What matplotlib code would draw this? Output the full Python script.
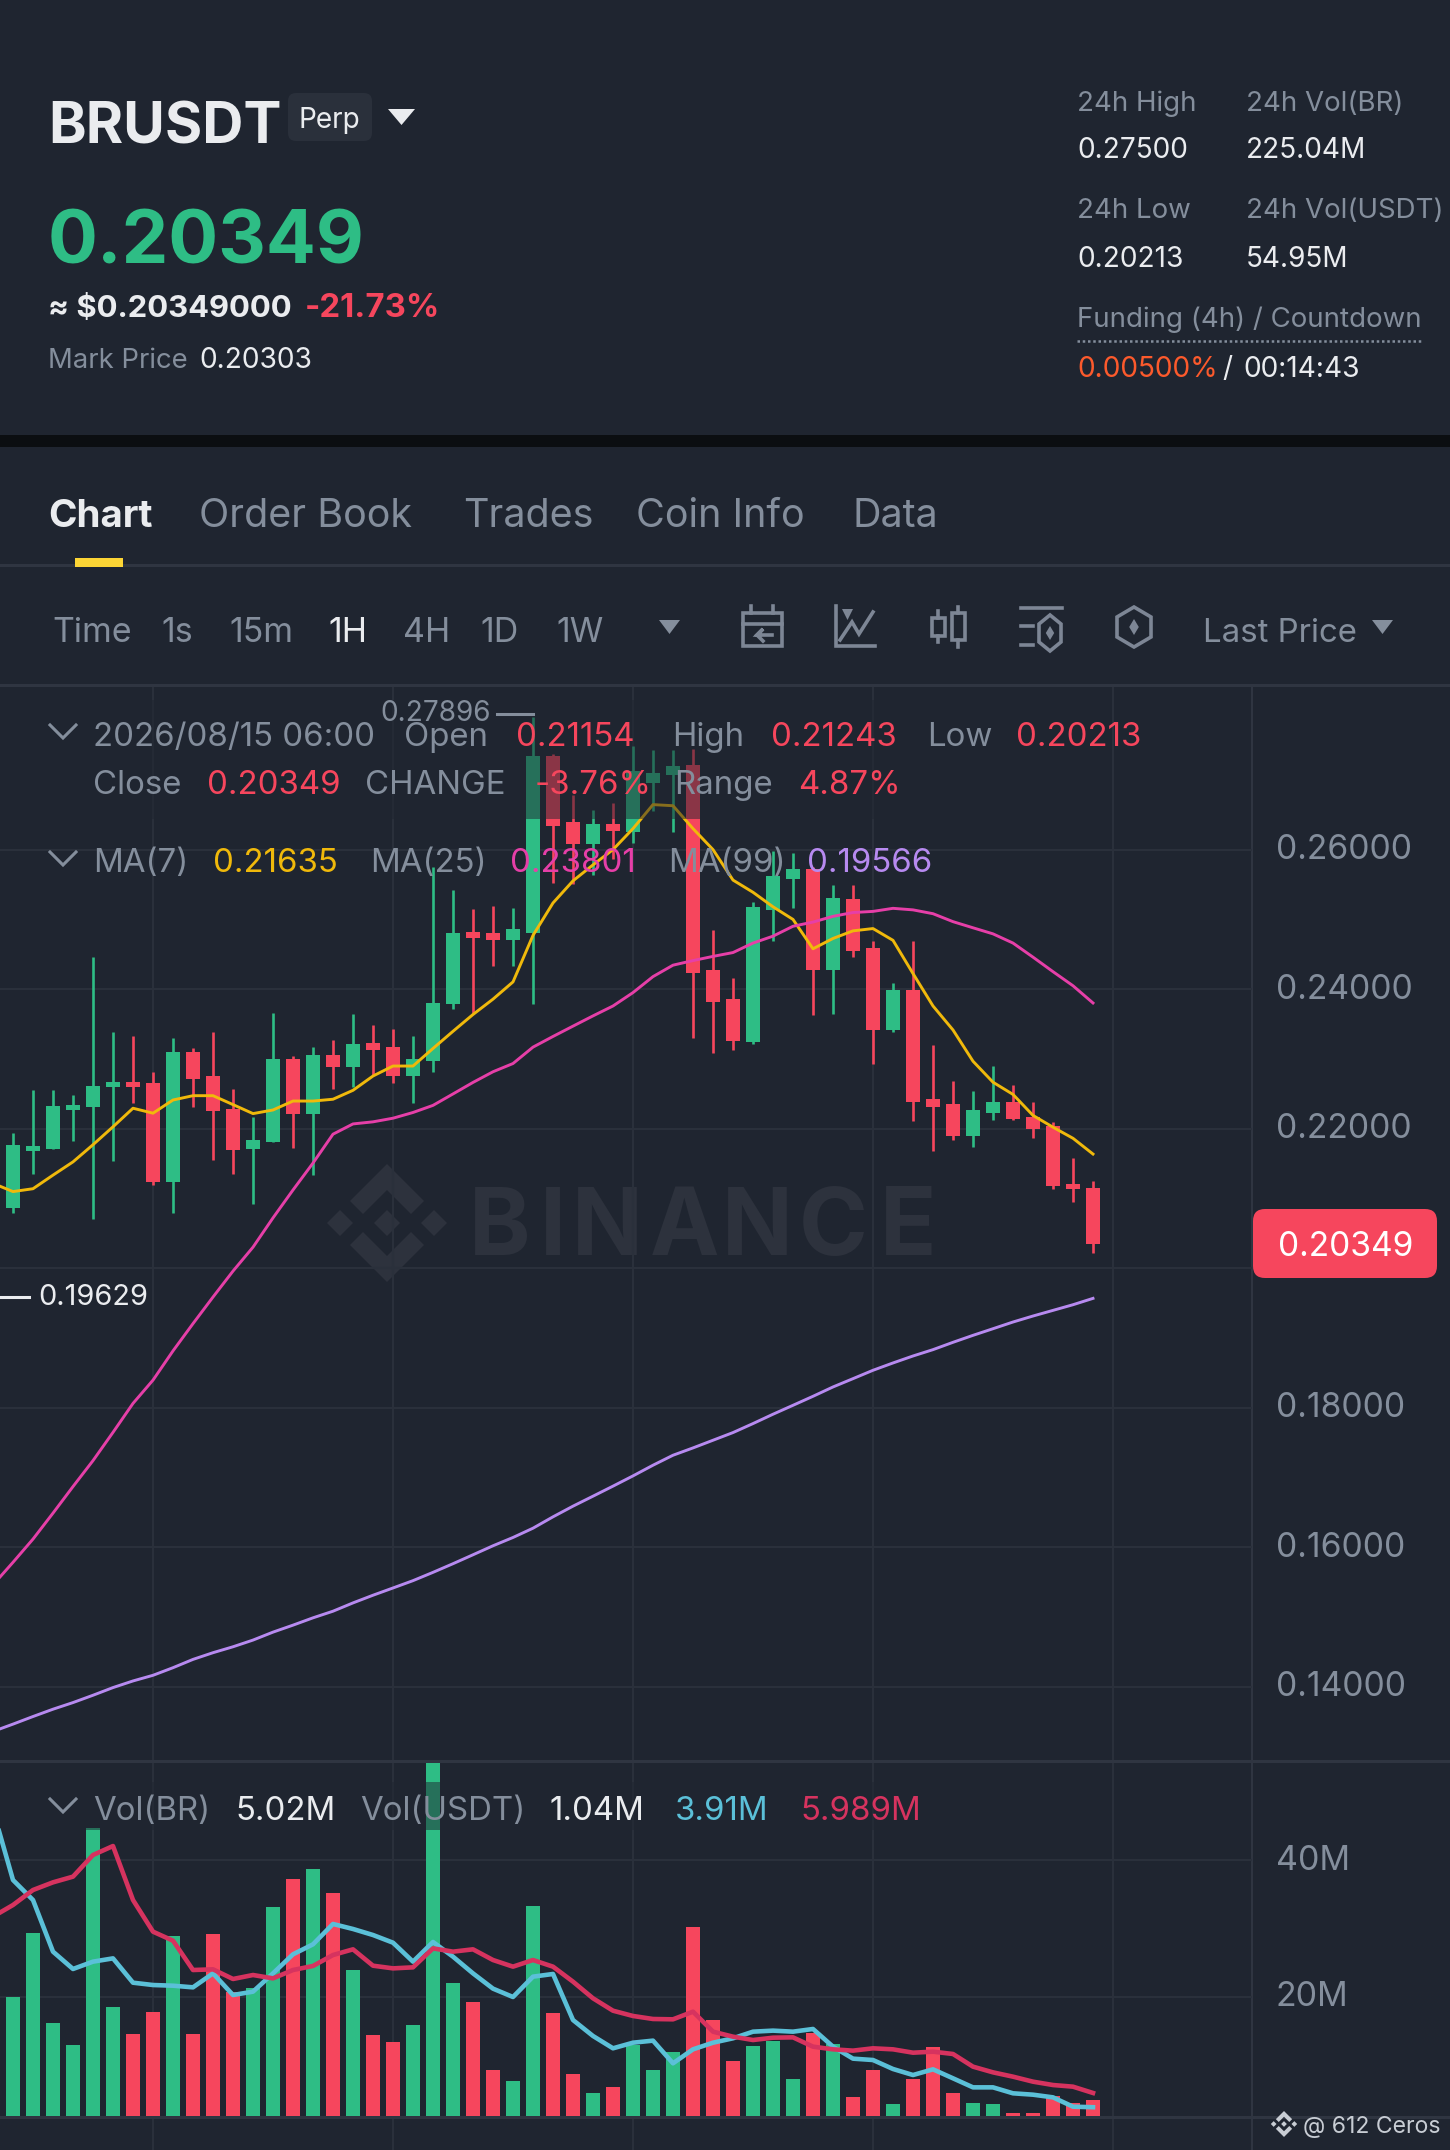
import matplotlib
matplotlib.use('Agg')
import matplotlib.pyplot as plt
from matplotlib.patches import Rectangle, FancyBboxPatch, Polygon
from matplotlib.transforms import ScaledTranslation
import numpy as np

# candles, oldest first
opens = [.20856, .21677, .21713, .22267, .22308, .2259, .22662, .22656, .21236, .23103, .22749,
         .22287, .21703, .21805, .23, .22215, .23051, .22882, .23226, .23169, .22749, .22974,
         .2379, .24815, .248, .24708, .24803, .2734, .26394, .26082, .26372, .26257, .26957,
         .27066, .27219, .24272, .23851, .23239, .25136, .25579, .25716, .24278, .25295, .24584,
         .23408, .23993, .22419, .22348, .21888, .22227, .22375, .22162, .22036, .21211, .21154]
highs = [.21933, .22559, .22549, .22487, .24456, .23385, .23323, .22805, .23292, .23149, .23385,
         .22574, .22164, .23662, .23046, .23164, .23267, .23646, .23482, .23421, .23328, .25744,
         .25421, .25144, .2519, .25159, .27896, .27367, .26782, .26563, .26672, .27487, .27432,
         .27432, .27449, .24846, .24157, .25245, .25984, .25951, .25754, .25492, .25492, .24688,
         .24086, .24693, .23195, .22676, .22534, .22894, .22621, .22375, .22091, .21582, .21243]
lows = [.20795, .21349, .21703, .21821, .20703, .21533, .22364, .2119, .20795, .22303, .21549,
        .21349, .20918, .21805, .21728, .21333, .22564, .2259, .22774, .22651, .22369, .22805,
        .23718, .23651, .24333, .24333, .23786, .25524, .25508, .25634, .25863, .26098, .26547,
        .26246, .23305, .23086, .2313, .23206, .24688, .25158, .23622, .23644, .24458, .22922,
        .23387, .22107, .21686, .21834, .21741, .22118, .22124, .21872, .21129, .20943, .20213]
closes = [.21769, .21754, .22318, .22344, .2261, .22672, .2259, .21236, .23103, .22713, .22251,
          .21687, .21841, .23005, .22205, .23051, .22877, .2321, .23133, .22754, .23005, .238,
          .24805, .24738, .24708, .24856, .2734, .26344, .26082, .26372, .26262, .27121, .27093,
          .27203, .24234, .23813, .2325, .25174, .25617, .25716, .24272, .253, .24551, .23414,
          .23993, .22386, .22309, .21888, .22266, .22375, .22134, .21992, .21172, .21129, .20349]

# moving averages start one candle left of the visible window
ma7 = [.21215, .21097, .21138, .21333, .21523, .21769, .22026, .22292, .22221, .2241, .22472,
       .22472, .22344, .22215, .22267, .22395, .22395, .22421, .22549, .22754, .22897, .22897,
       .23149, .23395, .23636, .23856, .24103, .2477, .25235, .25552, .25781, .26, .26301,
       .26645, .26629, .26301, .26, .25563, .25388, .2518, .24999, .24578, .24726, .24835,
       .24868, .24699, .24223, .23758, .23414, .22966, .22665, .2249, .22189, .2202, .21861, .21635]
ma25 = [.15458, .15782, .16115, .16487, .16868, .1724, .17645, .1806, .18394, .18813, .19204,
        .19585, .19957, .203, .2072, .2112, .21506, .2192, .22067, .22097, .22149, .22231,
        .22333, .22497, .22662, .22815, .22933, .23168, .23321, .23469, .23616, .23758, .2395,
        .24179, .24343, .24409, .24469, .24524, .2466, .24759, .24901, .24961, .25043, .25098,
        .25114, .25158, .25136, .25081, .24967, .24879, .24792, .2466, .24458, .2425, .24048, .23801]
ma99 = [.13357, .13462, .13571, .13676, .13771, .13876, .13986, .14081, .14162, .14271, .1439,
        .14486, .14571, .14667, .14781, .14881, .14986, .15081, .152, .1531, .15414, .15519,
        .15638, .15762, .1589, .16019, .16138, .16271, .16434, .16587, .1673, .16874, .17021,
        .17174, .17317, .17422, .17532, .17642, .17771, .17905, .18033, .18162, .18296, .18415,
        .18535, .1864, .1874, .18831, .18936, .19036, .19131, .19227, .19313, .19394, .19475, .19566]

# volume in millions
volumes = [20.0, 29.29, 16.16, 13.0, 44.72, 18.49, 14.55, 17.76, 28.91, 14.55, 29.15, 20.8, 21.3,
           33.1, 37.18, 38.64, 35.13, 23.94, 14.4, 13.43, 15.86, 54.1, 22.0, 19.22, 9.34, 7.8,
           33.3, 17.7, 8.76, 6.0, 6.81, 13.0, 9.4, 12.02, 30.2, 16.7, 10.66, 12.85, 13.63, 8.03,
           14.7, 13.1, 5.35, 9.3, 4.33, 8.0, 12.65, 5.94, 4.53, 4.4, 3.0, 3.0, 5.6, 4.5, 5.02]
vol_ma5 = [47.3, 37.08, 34.16, 26.62, 24.09, 25.16, 25.64, 22.09, 21.75, 21.65, 21.41, 23.45,
           20.29, 20.78, 23.45, 26.23, 27.69, 30.66, 29.93, 29.05, 27.93, 25.16, 28.03, 25.89,
           23.45, 21.22, 20.0, 22.97, 23.36, 16.64, 14.31, 12.51, 13.33, 13.63, 10.32, 12.36,
           13.33, 13.97, 14.94, 15.09, 14.94, 15.33, 12.75, 11.0, 10.8, 9.49, 8.61, 9.44, 8.13,
           6.81, 6.81, 5.94, 5.74, 5.35, 3.99, 3.91]
vol_ma10 = [31.73, 33.43, 35.62, 36.74, 37.57, 40.73, 42.04, 34.16, 29.54, 28.22, 23.94, 24.04,
            22.63, 23.21, 22.72, 23.94, 24.53, 26.13, 26.96, 24.57, 24.18, 24.33, 27.1, 26.62,
            26.96, 25.4, 24.43, 25.4, 24.43, 22.24, 19.81, 18.0, 17.23, 16.79, 16.74, 17.86,
            14.94, 14.21, 13.72, 14.06, 14.11, 12.75, 12.36, 12.17, 12.51, 12.36, 11.87, 12.02,
            11.68, 9.83, 9.0, 8.37, 7.64, 7.15, 6.91, 5.989]

price_ticks = [.14, .16, .18, .20, .22, .24, .26]
price_labels = ['0.14000', '0.16000', '0.18000', '', '0.22000', '0.24000', '0.26000']
vol_ticks = [20, 40]
vol_labels = ['20M', '40M']
time_ticks = [7, 19, 31, 43, 55]
intervals = ['Time', '1s', '15m', '1H', '4H', '1D', '1W']
tabs = ['Chart', 'Order Book', 'Trades', 'Coin Info', 'Data']

BG = '#1f2530'
GREEN = '#2ebd85'
RED = '#f6465d'
GRAY = '#848e9c'
WHITE = '#eaecef'
GRID = '#2a303b'
LINE = '#2f3541'
W, H = 1450, 2150

plt.rcParams['font.family'] = ['Inter', 'DejaVu Sans']
fig = plt.figure(figsize=(W / 100, H / 100), dpi=100, facecolor=BG)


def px_axes(left, top, right, bottom, z):
    return fig.add_axes([left / W, 1 - bottom / H, (right - left) / W, (bottom - top) / H], zorder=z)


# pixel layers for the page furniture
under = px_axes(0, 0, W, H, 0)
over = px_axes(0, 0, W, H, 5)
for a in (under, over):
    a.set_xlim(0, W)
    a.set_ylim(H, 0)
    a.axis('off')


def label(x, y, s, size, color=GRAY, weight='normal', ax=over, **kw):
    ax.text(x, y, s, fontsize=size * 0.72, color=color, fontweight=weight, va='baseline', ha='left', **kw)


def binance_logo(ax, cx, cy, k, color):
    # k = half height of the mark in pixels / 60
    for dx in (-47, 0, 47):
        ax.add_patch(Polygon([(cx + dx * k, cy - 13 * k), (cx + (dx + 13) * k, cy),
                              (cx + dx * k, cy + 13 * k), (cx + (dx - 13) * k, cy)], color=color, lw=0))
    for s in (-1, 1):
        pts = [(0, 59), (37, 22), (24, 9), (0, 33), (-24, 9), (-37, 22)]
        ax.add_patch(Polygon([(cx + a * k, cy + s * b * k) for a, b in pts], color=color, lw=0))


def tri(x0, x1, y0, y1, color):
    over.add_patch(Polygon([(x0, y0), (x1, y0), ((x0 + x1) / 2, y1)], color=color, lw=0))


def chevron(x0, x1, y0, y1):
    over.plot([x0, (x0 + x1) / 2, x1], [y0, y1, y0], color=GRAY, lw=2.2, solid_joinstyle='miter')


# header
under.add_patch(Rectangle((0, 435), W, 12, color='#0b0e11', lw=0))
label(48, 144, 'BRUSDT', 57, WHITE, 'bold')
under.add_patch(FancyBboxPatch((294, 99), 72, 36, boxstyle='round,pad=6,rounding_size=8', color='#2a303b', lw=0))
label(299, 128, 'Perp', 28, WHITE)
tri(388, 415, 109, 125, WHITE)
label(48, 264, '0.20349', 74, GREEN, 'bold')
label(48, 317, '≈ $0.20349000', 31, WHITE, 'bold')
label(305, 317, '-21.73%', 33, RED, 'bold')
label(48, 368, 'Mark Price', 27.5)
label(199, 368, '0.20303', 28, WHITE)

label(1077, 111, '24h High', 27.7)
label(1246, 111, '24h Vol(BR)', 27.7)
label(1077, 158, '0.27500', 28, WHITE)
label(1246, 158, '225.04M', 28, WHITE)
label(1077, 218, '24h Low', 27.7)
label(1246, 218, '24h Vol(USDT)', 27.7)
label(1077, 267, '0.20213', 28, WHITE)
label(1246, 267, '54.95M', 28, WHITE)
label(1077, 327, 'Funding (4h) / Countdown', 27.7)
over.plot([1077, 1422], [341, 341], color=GRAY, lw=1.8, ls=(0, (1, 1.1)))
label(1077, 377, '0.00500%', 28, '#fc5a2c')
label(1222, 377, '/', 28, WHITE)
label(1243, 377, '00:14:43', 28, WHITE)

# tabs
for s, x in zip(tabs, [48, 199, 463, 636, 853]):
    label(x, 527, s, 38.5 if s == 'Chart' else 39.5, WHITE if s == 'Chart' else GRAY, 'bold' if s == 'Chart' else 'normal')
under.add_patch(Rectangle((0, 564), W, 3, color=LINE, lw=0))
under.add_patch(Rectangle((75, 558), 48, 9, color='#fcd535', lw=0))

# toolbar
for s, x in zip(intervals, [52, 161, 229, 328, 403, 480, 556]):
    label(x, 642, s, 34, WHITE if s == '1H' else GRAY)
tri(659, 680, 620, 634, GRAY)
label(1203, 642, 'Last Price', 33)
tri(1372, 1393, 620, 634, GRAY)

ic = dict(color='#7d8695', lw=2.6, solid_joinstyle='miter')
over.add_patch(Rectangle((743, 613), 39, 33, fill=False, ec='#7d8695', lw=2.6))
over.plot([743, 782], [624, 624], **ic)
over.plot([751, 751], [606, 613], **ic)
over.plot([773, 773], [606, 613], **ic)
over.plot([772, 757, 763, 757, 763], [635, 635, 629, 635, 641], **ic)
over.plot([836, 836, 875], [606, 646, 646], **ic)
over.plot([840, 852, 859, 873], [640, 622, 634, 612], **ic)
tri(842, 853, 609, 620, '#7d8695')
over.add_patch(Rectangle((932, 618), 13, 18, fill=False, ec='#7d8695', lw=2.6))
over.add_patch(Rectangle((952, 613), 13, 27, fill=False, ec='#7d8695', lw=2.6))
over.plot([938, 938], [611, 618], **ic)
over.plot([938, 938], [636, 642], **ic)
over.plot([958, 958], [607, 613], **ic)
over.plot([958, 958], [640, 647], **ic)
over.plot([1021, 1062], [608, 608], **ic)
over.plot([1021, 1033], [626, 626], **ic)
over.plot([1021, 1033], [645, 645], **ic)


def hexagon(cx, cy, hw, hh, d):
    over.add_patch(Polygon([(cx, cy - hh), (cx + hw, cy - hh / 2), (cx + hw, cy + hh / 2), (cx, cy + hh),
                            (cx - hw, cy + hh / 2), (cx - hw, cy - hh / 2)], fill=False, ec='#7d8695', lw=2.6))
    over.add_patch(Polygon([(cx, cy - d), (cx + d * 0.6, cy), (cx, cy + d), (cx - d * 0.6, cy)], color='#7d8695', lw=0))


hexagon(1050, 633, 11, 18, 7)
hexagon(1134, 627, 17, 20, 8)

# separators and the price axis rule
under.add_patch(Rectangle((0, 684), W, 3, color=LINE, lw=0))
under.add_patch(Rectangle((0, 1760), W, 3, color=LINE, lw=0))
under.add_patch(Rectangle((0, 2116), W, 3, color=LINE, lw=0))
under.add_patch(Rectangle((1251, 686), 2, H - 686, color=LINE, lw=0))
for px in [13 + 20 * t for t in time_ticks]:
    under.add_patch(Rectangle((px - 1, 2119), 2, H - 2119, color=GRID, lw=0))

# watermark sits behind the candles, letters spaced by hand
binance_logo(under, 387, 1223, 1, '#2d323d')
for ch, x in zip('BINANCE', [500, 553, 607, 685, 757, 833, 908]):
    under.text(x, 1255, ch, fontsize=67, color='#2d323d', fontweight='bold', va='baseline', ha='center')

# price pane
idx = np.arange(len(closes))
ma_idx = np.arange(-1, len(closes))
colors = [GREEN if c >= o else RED for o, c in zip(opens, closes)]
ax = px_axes(0, 687, 1252, 1760, 1)
ax.set_xlim(-0.65, 61.95)
ax.set_ylim(.26 - (1760 - 849.6) / 6975, .26 + (849.6 - 687) / 6975)
ax.vlines(idx, lows, highs, colors=colors, lw=1.9, zorder=3)
ax.bar(idx, np.abs(np.array(closes) - np.array(opens)), bottom=np.minimum(opens, closes), width=0.7, color=colors, zorder=3)
ax.plot(ma_idx, ma7, color='#f0b90b', lw=2.1, zorder=4)
ax.plot(ma_idx, ma25, color='#e63fa8', lw=2.1, zorder=4)
ax.plot(ma_idx, ma99, color='#b78af0', lw=2.1, zorder=4)
ax.set_yticks(price_ticks)
ax.set_yticklabels(price_labels, fontsize=24.2, color=GRAY)
ax.yaxis.tick_right()
ax.set_xticks(time_ticks)
ax.set_xticklabels([])
ax.tick_params(length=0, pad=17)
ax.grid(True, color=GRID, lw=1.5)
ax.set_axisbelow(True)
ax.patch.set_alpha(0)
for s in ax.spines.values():
    s.set_visible(False)

# volume pane
vax = px_axes(0, 1763, 1252, 2116, 1)
vax.set_xlim(-0.65, 61.95)
vax.set_ylim(20 - (2116 - 1997) / 6.85, 40 + (1860 - 1763) / 6.85)
vax.bar(idx, volumes, width=0.7, color=colors, zorder=3)
vax.plot(ma_idx, vol_ma5, color='#5bc0d8', lw=3.3, zorder=4)
vax.plot(ma_idx, vol_ma10, color='#d6335f', lw=3.3, zorder=4)
vax.set_yticks(vol_ticks)
vax.set_yticklabels(vol_labels, fontsize=24.5, color=GRAY)
vax.yaxis.tick_right()
vax.set_xticks(time_ticks)
vax.set_xticklabels([])
vax.tick_params(length=0, pad=17)
vax.grid(True, color=GRID, lw=1.5)
vax.set_axisbelow(True)
vax.patch.set_alpha(0)
for s in vax.spines.values():
    s.set_visible(False)

# tick labels sit a touch above their gridlines
nudge = ScaledTranslation(0, 3 / 100, fig.dpi_scale_trans)
for a in (ax, vax):
    for lab in a.get_yticklabels():
        lab.set_transform(lab.get_transform() + nudge)

# legend rows dim whatever is under them
over.add_patch(Rectangle((85, 700), 825, 119, color=BG, alpha=0.5, lw=0))
over.add_patch(Rectangle((85, 1782), 845, 48, color=BG, alpha=0.5, lw=0))

# legend text
chevron(50, 76, 725, 738)
chevron(50, 76, 852, 865)
chevron(50, 76, 1799, 1812)
S = 33
for x, s, c in [(93, '2026/08/15 06:00', GRAY), (404, 'Open', GRAY), (516, '0.21154', RED), (672, 'High', GRAY),
                (771, '0.21243', RED), (927, 'Low', GRAY), (1016, '0.20213', RED)]:
    label(x, 746, s, S, c)
for x, s, c in [(93, 'Close', GRAY), (207, '0.20349', RED), (365, 'CHANGE', GRAY), (535, '-3.76%', RED),
                (674, 'Range', GRAY), (798, '4.87%', RED)]:
    label(x, 794, s, S, c)
for x, s, c in [(93, 'MA(7)', GRAY), (213, '0.21635', '#f0b90b'), (370, 'MA(25)', GRAY), (510, '0.23801', '#e63fa8'),
                (668, 'MA(99)', GRAY), (807, '0.19566', '#b78af0')]:
    label(x, 872, s, S, c)
for x, s, c in [(93, 'Vol(BR)', GRAY), (235, '5.02M', WHITE), (360, 'Vol(USDT)', GRAY), (550, '1.04M', WHITE),
                (675, '3.91M', '#5bc0d8'), (800, '5.989M', '#d6335f')]:
    label(x, 1820, s, S, c)

# high and low callouts
label(380, 721, '0.27896', 28)
over.plot([497, 533], [714, 714], color=GRAY, lw=2.2)
label(38, 1305, '0.19629', 29, WHITE)
over.plot([0, 29], [1297, 1297], color=WHITE, lw=2.2)

# last price badge
over.add_patch(FancyBboxPatch((1263, 1219), 164, 49, boxstyle='round,pad=10,rounding_size=12', color=RED, lw=0))
label(1278, 1256, '0.20349', 33.5, '#ffffff')

# footer mark
binance_logo(over, 1284, 2124, 0.22, '#c8cdd4')
label(1303, 2133, '@ 612 Ceros', 23, '#c8cdd4')

fig.savefig('out.png', dpi=100, facecolor=BG)
